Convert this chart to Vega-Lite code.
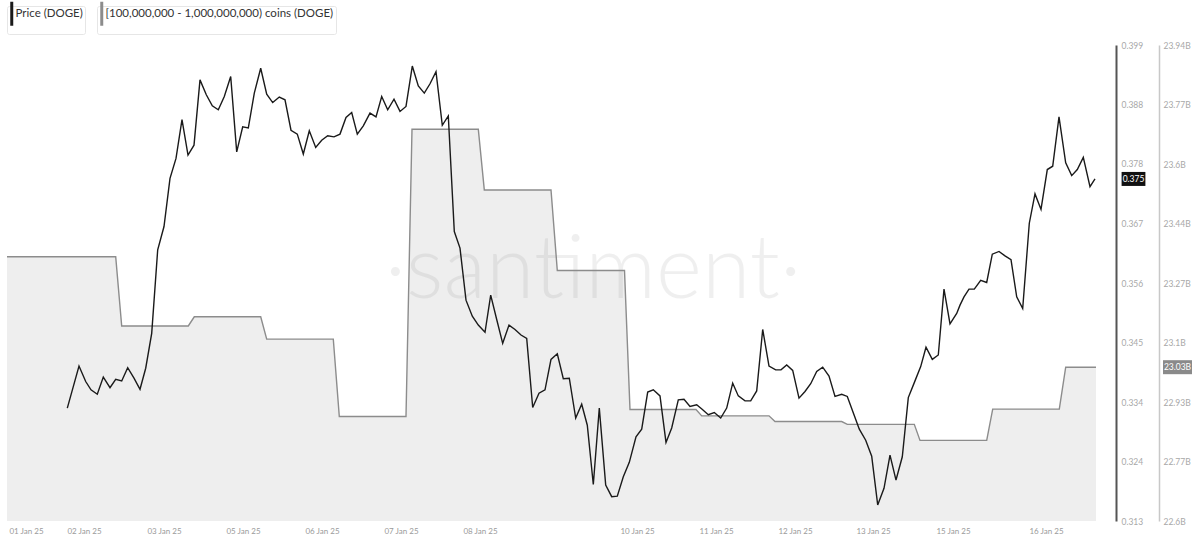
{
  "$schema": "https://vega.github.io/schema/vega-lite/v6.json",
  "width": 1109,
  "height": 476,
  "autosize": "none",
  "padding": {"left": 7, "top": 45, "right": 84, "bottom": 21},
  "background": "white",
  "config": {
    "view": {"stroke": null},
    "font": "Lato",
    "axis": {"grid": false, "ticks": false, "title": null, "labelFont": "Lato"}
  },
  "datasets": {
    "holders": [
      {"t": 0, "holdings_bn": 23.344},
      {"t": 108.7, "holdings_bn": 23.344},
      {"t": 114.7, "holdings_bn": 23.149},
      {"t": 181.3, "holdings_bn": 23.149},
      {"t": 187.3, "holdings_bn": 23.175},
      {"t": 253.7, "holdings_bn": 23.175},
      {"t": 259.7, "holdings_bn": 23.112},
      {"t": 326.3, "holdings_bn": 23.112},
      {"t": 332.3, "holdings_bn": 22.894},
      {"t": 399, "holdings_bn": 22.894},
      {"t": 405, "holdings_bn": 23.703},
      {"t": 471.3, "holdings_bn": 23.703},
      {"t": 477.3, "holdings_bn": 23.532},
      {"t": 544, "holdings_bn": 23.532},
      {"t": 550.3, "holdings_bn": 23.305},
      {"t": 617.5, "holdings_bn": 23.305},
      {"t": 623, "holdings_bn": 22.914},
      {"t": 689, "holdings_bn": 22.914},
      {"t": 694.7, "holdings_bn": 22.896},
      {"t": 762, "holdings_bn": 22.896},
      {"t": 768, "holdings_bn": 22.88},
      {"t": 834.7, "holdings_bn": 22.88},
      {"t": 840.3, "holdings_bn": 22.872},
      {"t": 907.3, "holdings_bn": 22.872},
      {"t": 913, "holdings_bn": 22.827},
      {"t": 979.7, "holdings_bn": 22.827},
      {"t": 985.7, "holdings_bn": 22.915},
      {"t": 1052.3, "holdings_bn": 22.915},
      {"t": 1058.7, "holdings_bn": 23.033},
      {"t": 1089, "holdings_bn": 23.033}
    ],
    "price": [
      {"t": 60.3, "price": 0.3334}, {"t": 72, "price": 0.341}, {"t": 78.7, "price": 0.3382},
      {"t": 84, "price": 0.3367}, {"t": 90.3, "price": 0.3359}, {"t": 96.3, "price": 0.339},
      {"t": 103, "price": 0.3371}, {"t": 108.7, "price": 0.3386}, {"t": 114.7, "price": 0.3383},
      {"t": 120.7, "price": 0.3407}, {"t": 127, "price": 0.3388}, {"t": 133, "price": 0.3368},
      {"t": 138.7, "price": 0.3406}, {"t": 144.7, "price": 0.3469}, {"t": 150.7, "price": 0.362},
      {"t": 157, "price": 0.3662}, {"t": 163, "price": 0.3749}, {"t": 169, "price": 0.3785},
      {"t": 175, "price": 0.3855}, {"t": 181, "price": 0.3791}, {"t": 187, "price": 0.3809},
      {"t": 193, "price": 0.3927}, {"t": 199.3, "price": 0.39}, {"t": 205.3, "price": 0.388},
      {"t": 211.3, "price": 0.3873}, {"t": 217.3, "price": 0.3897}, {"t": 223.7, "price": 0.3933},
      {"t": 229.7, "price": 0.3797}, {"t": 235.7, "price": 0.3842}, {"t": 241.3, "price": 0.384},
      {"t": 247.3, "price": 0.3903}, {"t": 253.7, "price": 0.3948}, {"t": 259.7, "price": 0.3901},
      {"t": 265.7, "price": 0.3886}, {"t": 272.3, "price": 0.3896}, {"t": 278, "price": 0.3891},
      {"t": 284, "price": 0.3836}, {"t": 290.3, "price": 0.3829}, {"t": 296.3, "price": 0.3793},
      {"t": 302.3, "price": 0.3835}, {"t": 308.7, "price": 0.3805}, {"t": 314.7, "price": 0.3818},
      {"t": 320.7, "price": 0.3826}, {"t": 327, "price": 0.3824}, {"t": 333, "price": 0.3829},
      {"t": 339, "price": 0.3859}, {"t": 344.7, "price": 0.3868}, {"t": 350.3, "price": 0.3829},
      {"t": 356.3, "price": 0.3844}, {"t": 363, "price": 0.3867}, {"t": 369, "price": 0.386},
      {"t": 374.7, "price": 0.3897}, {"t": 380.7, "price": 0.3873}, {"t": 387, "price": 0.3892},
      {"t": 393, "price": 0.387}, {"t": 399, "price": 0.3879}, {"t": 405.3, "price": 0.3952},
      {"t": 411.3, "price": 0.3916}, {"t": 417.3, "price": 0.3903}, {"t": 423, "price": 0.392},
      {"t": 429, "price": 0.3942}, {"t": 435.3, "price": 0.3845}, {"t": 441.3, "price": 0.3862},
      {"t": 447.3, "price": 0.3653}, {"t": 453, "price": 0.3623}, {"t": 459, "price": 0.3529},
      {"t": 465.3, "price": 0.35}, {"t": 471.3, "price": 0.3484}, {"t": 478, "price": 0.3471},
      {"t": 483.7, "price": 0.3538}, {"t": 489.7, "price": 0.3494}, {"t": 495.7, "price": 0.3451},
      {"t": 502, "price": 0.3484}, {"t": 508, "price": 0.3476}, {"t": 514, "price": 0.3466},
      {"t": 519.7, "price": 0.346}, {"t": 525.7, "price": 0.3335}, {"t": 532, "price": 0.3361},
      {"t": 538, "price": 0.3367}, {"t": 544, "price": 0.3422}, {"t": 550.3, "price": 0.3432},
      {"t": 556.3, "price": 0.3387}, {"t": 562.3, "price": 0.3388}, {"t": 568.7, "price": 0.3316},
      {"t": 574.7, "price": 0.3341}, {"t": 580.3, "price": 0.3303}, {"t": 586.3, "price": 0.3196},
      {"t": 592.3, "price": 0.3334}, {"t": 598.7, "price": 0.3195}, {"t": 604.7, "price": 0.3174},
      {"t": 610.3, "price": 0.3175}, {"t": 616.3, "price": 0.321}, {"t": 622.3, "price": 0.3236},
      {"t": 629, "price": 0.3282}, {"t": 634.7, "price": 0.3296}, {"t": 640.7, "price": 0.3363},
      {"t": 646.3, "price": 0.3367}, {"t": 653, "price": 0.3356}, {"t": 659, "price": 0.3272},
      {"t": 664.7, "price": 0.3298}, {"t": 671.3, "price": 0.3349}, {"t": 677, "price": 0.335},
      {"t": 683, "price": 0.3337}, {"t": 689.7, "price": 0.334}, {"t": 695.7, "price": 0.3331},
      {"t": 701.3, "price": 0.3322}, {"t": 707.3, "price": 0.3326}, {"t": 713.7, "price": 0.3316},
      {"t": 719.7, "price": 0.3334}, {"t": 725.7, "price": 0.3379}, {"t": 731.3, "price": 0.3356},
      {"t": 738, "price": 0.3347}, {"t": 743.7, "price": 0.3347}, {"t": 749.7, "price": 0.3365},
      {"t": 755.7, "price": 0.3476}, {"t": 762, "price": 0.341}, {"t": 768.7, "price": 0.3403},
      {"t": 774, "price": 0.3403}, {"t": 779.7, "price": 0.3412}, {"t": 785.7, "price": 0.3402},
      {"t": 792, "price": 0.3352}, {"t": 798, "price": 0.3364}, {"t": 803.7, "price": 0.3378},
      {"t": 809.7, "price": 0.34}, {"t": 815.7, "price": 0.3408}, {"t": 822, "price": 0.3392},
      {"t": 828, "price": 0.3355}, {"t": 834.7, "price": 0.3359}, {"t": 840.3, "price": 0.3355},
      {"t": 847, "price": 0.3322}, {"t": 852.3, "price": 0.3296}, {"t": 858.7, "price": 0.3276},
      {"t": 864.7, "price": 0.3247}, {"t": 870.7, "price": 0.3159}, {"t": 877, "price": 0.3189},
      {"t": 883, "price": 0.3249}, {"t": 889, "price": 0.3204}, {"t": 895.3, "price": 0.3246},
      {"t": 901.3, "price": 0.3353}, {"t": 907.3, "price": 0.338}, {"t": 913.7, "price": 0.3409},
      {"t": 919, "price": 0.3444}, {"t": 925.3, "price": 0.3422}, {"t": 931.3, "price": 0.343},
      {"t": 937, "price": 0.3549}, {"t": 943, "price": 0.3486}, {"t": 949.7, "price": 0.3505},
      {"t": 953, "price": 0.352}, {"t": 957, "price": 0.3535}, {"t": 962, "price": 0.3549},
      {"t": 967.3, "price": 0.3549}, {"t": 973.7, "price": 0.3565}, {"t": 979.7, "price": 0.3561},
      {"t": 985.3, "price": 0.3612}, {"t": 992, "price": 0.3617}, {"t": 998, "price": 0.3609},
      {"t": 1004, "price": 0.3602}, {"t": 1009.7, "price": 0.3535}, {"t": 1015.7, "price": 0.3514},
      {"t": 1022.3, "price": 0.3668}, {"t": 1028, "price": 0.3721}, {"t": 1034, "price": 0.3693},
      {"t": 1040.3, "price": 0.3765}, {"t": 1045.7, "price": 0.3771}, {"t": 1052, "price": 0.386},
      {"t": 1058.7, "price": 0.3777}, {"t": 1064.7, "price": 0.3754}, {"t": 1070.3, "price": 0.3765},
      {"t": 1076.3, "price": 0.3787}, {"t": 1083, "price": 0.3734}, {"t": 1088, "price": 0.3748}
    ]
  },
  "layer": [
    {
      "data": {"name": "holders"},
      "layer": [
        {
          "mark": {"type": "area", "color": "#eeeeee", "interpolate": "linear"},
          "encoding": {
            "x": {
              "field": "t", "type": "quantitative",
              "scale": {"domain": [0, 1109], "nice": false, "zero": false},
              "axis": {
                "orient": "bottom", "domain": false, "labelColor": "#9a9a9a", "labelFontSize": 8,
                "labelPadding": 6, "labelOverlap": false, "labelFlush": false,
                "values": [19, 77, 157, 236, 315, 394, 473, 630, 709, 788, 866, 946, 1039],
                "labelExpr": "['01 Jan 25','02 Jan 25','03 Jan 25','05 Jan 25','06 Jan 25','07 Jan 25','08 Jan 25','10 Jan 25','11 Jan 25','12 Jan 25','13 Jan 25','15 Jan 25','16 Jan 25'][indexof([19,77,157,236,315,394,473,630,709,788,866,946,1039], datum.value)]"
              }
            },
            "y": {
              "field": "holdings_bn", "type": "quantitative",
              "scale": {"domain": [22.6, 23.94], "nice": false, "zero": false},
              "axis": {
                "orient": "right", "offset": 43, "domainColor": "#c8c8c8", "domainWidth": 1.5,
                "labelColor": "#a8a8a8", "labelFontSize": 8.5, "labelPadding": 4,
                "labelOverlap": false, "labelFlush": false, "labelBaseline": "middle",
                "values": [22.6, 22.768, 22.934, 23.1025, 23.27, 23.438, 23.604, 23.772, 23.94],
                "labelExpr": "format(datum.value, '.4~r') + 'B'"
              }
            },
            "y2": {"datum": 22.6}
          }
        },
        {
          "data": {"values": [{"watermark": "·santiment·"}]},
          "mark": {"type": "text", "font": "Lato", "fontWeight": 300, "fontSize": 88, "color": "#000000", "opacity": 0.06, "align": "center", "baseline": "middle"},
          "encoding": {
            "x": {"datum": 586},
            "y": {"datum": 23.3},
            "text": {"field": "watermark"}
          }
        },
        {
          "mark": {"type": "line", "strokeWidth": 1.4, "interpolate": "linear"},
          "encoding": {
            "x": {"field": "t", "type": "quantitative"},
            "y": {"field": "holdings_bn", "type": "quantitative"},
            "stroke": {
              "datum": "[100,000,000 - 1,000,000,000) coins (DOGE)",
              "scale": {"range": ["#8c8c8c"]},
              "legend": {
                "title": null, "orient": "none", "legendX": 90, "legendY": -39,
                "symbolType": "M-1.5,-6V6", "symbolSize": 16, "symbolStrokeWidth": 3,
                "labelFontSize": 11.5, "labelColor": "#333333", "labelFont": "Lato", "labelOffset": -5,
                "labelLimit": 400,
                "strokeColor": "#e6e6e6", "padding": 2, "cornerRadius": 2
              }
            }
          }
        },
        {
          "transform": [{"filter": "datum.t == 1089"}],
          "mark": {"type": "point", "shape": "M-2.07,-1H2.07V1H-2.07Z", "size": 196, "filled": true, "opacity": 1, "color": "#8a8a8a", "xOffset": 61.5},
          "encoding": {
            "x": {"datum": 1109},
            "y": {"field": "holdings_bn", "type": "quantitative"}
          }
        },
        {
          "transform": [
            {"filter": "datum.t == 1089"},
            {"calculate": "format(datum.holdings_bn, '.2f') + 'B'", "as": "label"}
          ],
          "mark": {"type": "text", "color": "white", "fontSize": 8.5, "font": "Lato", "align": "center", "baseline": "middle", "dx": 61.5},
          "encoding": {
            "x": {"datum": 1109},
            "y": {"field": "holdings_bn", "type": "quantitative"},
            "text": {"field": "label"}
          }
        }
      ]
    },
    {
      "data": {"name": "price"},
      "layer": [
        {
          "mark": {"type": "line", "strokeWidth": 1.4, "interpolate": "linear"},
          "encoding": {
            "x": {"field": "t", "type": "quantitative"},
            "y": {
              "field": "price", "type": "quantitative",
              "scale": {"domain": [0.313, 0.399], "nice": false, "zero": false},
              "axis": {
                "orient": "right", "offset": 0, "domainColor": "#555555", "domainWidth": 2,
                "labelColor": "#a8a8a8", "labelFontSize": 8.5, "labelPadding": 5,
                "labelOverlap": false, "labelFlush": false, "labelBaseline": "middle",
                "values": [0.313, 0.3237, 0.3344, 0.3452, 0.356, 0.3667, 0.3776, 0.3882, 0.399],
                "format": ".3f"
              }
            },
            "stroke": {
              "datum": "Price (DOGE)",
              "scale": {"range": ["#1a1a1a"]},
              "legend": {
                "title": null, "orient": "none", "legendX": 0, "legendY": -39,
                "symbolType": "M-1.5,-6V6", "symbolSize": 16, "symbolStrokeWidth": 3,
                "labelFontSize": 11.5, "labelColor": "#333333", "labelFont": "Lato", "labelOffset": -5,
                "labelLimit": 400,
                "strokeColor": "#e6e6e6", "padding": 2, "cornerRadius": 2
              }
            }
          }
        },
        {
          "transform": [{"filter": "datum.t == 1088"}],
          "mark": {"type": "point", "shape": "M-1.7,-1H1.7V1H-1.7Z", "size": 196, "filled": true, "opacity": 1, "color": "#111111", "xOffset": 17.5},
          "encoding": {
            "x": {"datum": 1109},
            "y": {"field": "price", "type": "quantitative"}
          }
        },
        {
          "transform": [{"filter": "datum.t == 1088"}],
          "mark": {"type": "text", "color": "white", "fontSize": 8.5, "font": "Lato", "align": "center", "baseline": "middle", "dx": 17.5},
          "encoding": {
            "x": {"datum": 1109},
            "y": {"field": "price", "type": "quantitative"},
            "text": {"field": "price", "format": ".3f"}
          }
        }
      ]
    }
  ],
  "resolve": {
    "scale": {"y": "independent", "stroke": "independent"},
    "legend": {"stroke": "independent"}
  }
}
